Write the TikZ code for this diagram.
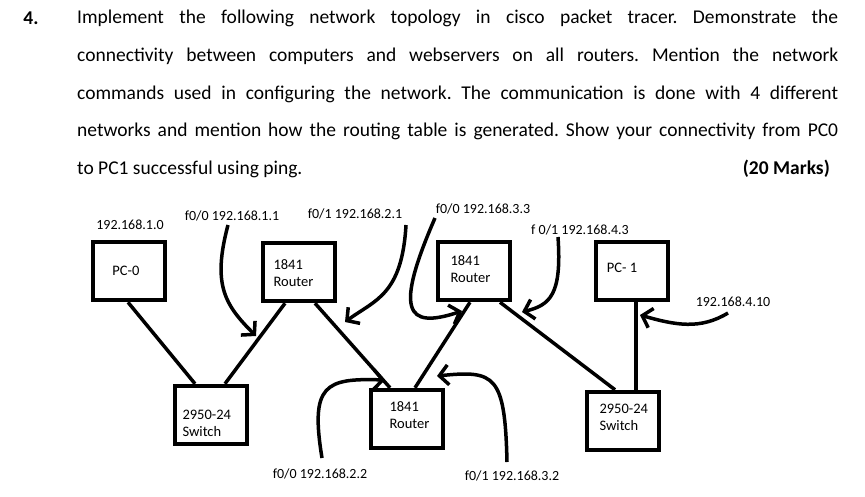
\documentclass[tikz,border=0pt]{standalone}
\usepackage{fontspec}
\setmainfont{Carlito}
\usetikzlibrary{arrows.meta}
\frenchspacing

\tikzset{
  dev/.style={draw,line width=4.5pt,minimum width=72pt,minimum height=58pt,inner sep=0pt},
  wire/.style={line width=3.5pt},
  pointer/.style={line width=3.5pt,-{Straight Barb[length=9pt,width=20pt,line width=3.5pt]}},
  ip/.style={font=\fontsize{14}{16}\selectfont,inner sep=1pt},
  devtext/.style={font=\fontsize{14.5}{17}\selectfont,align=left}
}

\begin{document}
\begin{tikzpicture}[x=1pt,y=-1pt]
\useasboundingbox (0,0) rectangle (865,496);

% question text
\node[font=\fontsize{19.5}{22}\selectfont\bfseries] (num) at (31,18) {4.};
\foreach \yy/\txt in {18/{Implement the following network topology in cisco packet tracer. Demonstrate the},
  56/{connectivity between computers and webservers on all routers. Mention the network},
  94/{commands used in configuring the network. The communication is done with 4 different},
  131/{networks and mention how the routing table is generated. Show your connectivity from PC0}}
  \node[font=\fontsize{19.5}{22}\selectfont,anchor=west,inner sep=0pt] at (77,\yy) {\makebox[761pt][s]{\txt}};
\node[font=\fontsize{19.5}{22}\selectfont,anchor=west,inner sep=0pt] (last) at (77,169) {to PC1 successful using ping.};
\node[font=\fontsize{19.5}{22}\selectfont\bfseries,anchor=east,inner sep=0pt] (marks) at (830,169) {(20 Marks)};

% devices
\node[dev] (pc0) at (129,271) {};
\node[devtext] at (126,271) {PC-0};
\node[dev] (ra) at (299,272) {};
\node[devtext,anchor=north west] at (270,256) {1841\\Router};
\node[dev] (rb) at (474,271) {};
\node[devtext,anchor=north west] at (447,252) {1841\\Router};
\node[dev] (pc1) at (632,271) {};
\node[devtext] at (622,268) {PC- 1};
\node[dev] (swa) at (211,415) {};
\node[devtext,anchor=north west] at (179,407) {2950-24\\Switch};
\node[dev] (rc) at (407,419) {};
\node[devtext,anchor=north west] at (386,398) {1841\\Router};
\node[dev] (swb) at (623,421) {};
\node[devtext,anchor=north west] at (596,401) {2950-24\\Switch};

% links
\draw[wire] ([xshift=-1pt]pc0.south) -- ([xshift=-16pt]swa.north);
\draw[wire] ([xshift=14pt]swa.north) -- ([xshift=-14pt]ra.south);
\draw[wire] ([xshift=16pt]ra.south) -- ([xshift=-17pt]rc.north);
\draw[wire] ([xshift=8pt]rc.north) -- ([xshift=-4pt]rb.south);
\draw[wire] ([xshift=26pt]rb.south) -- ([xshift=-8pt]swb.north);
\draw[wire] ([xshift=4pt]pc1.south) -- ([xshift=13pt]swb.north);

% addresses
\node[ip] (ippc0) at (130,225) {192.168.1.0};
\node[ip] (ra0) at (232,216) {f0/0 192.168.1.1};
\node[ip] (ra1) at (355,214) {f0/1 192.168.2.1};
\node[ip] (rb0) at (483,209) {f0/0 192.168.3.3};
\node[ip] (rb1) at (580,230) {f 0/1 192.168.4.3};
\node[ip] (ippc1) at (733,302) {192.168.4.10};
\node[ip] (rc0) at (320,474) {f0/0 192.168.2.2};
\node[ip] (rc1) at (512,476) {f0/1 192.168.3.2};

% pointers
\draw[pointer] (228,225) .. controls (212,285) and (225,305) .. (256,336);
\draw[pointer] (406,225) .. controls (402,295) and (375,300) .. (345,322);
\draw[pointer] (435,218) .. controls (395,310) and (405,330) .. (462,311);
\draw[pointer] (558,237) .. controls (562,295) and (550,305) .. (522,312);
\draw[pointer] (728,313) .. controls (700,330) and (675,325) .. (640,315);
\draw[pointer] (322,458) .. controls (310,385) and (325,378) .. (385,380);
\draw[pointer] (507,462) .. controls (505,375) and (495,370) .. (437,376);
\end{tikzpicture}
\end{document}
